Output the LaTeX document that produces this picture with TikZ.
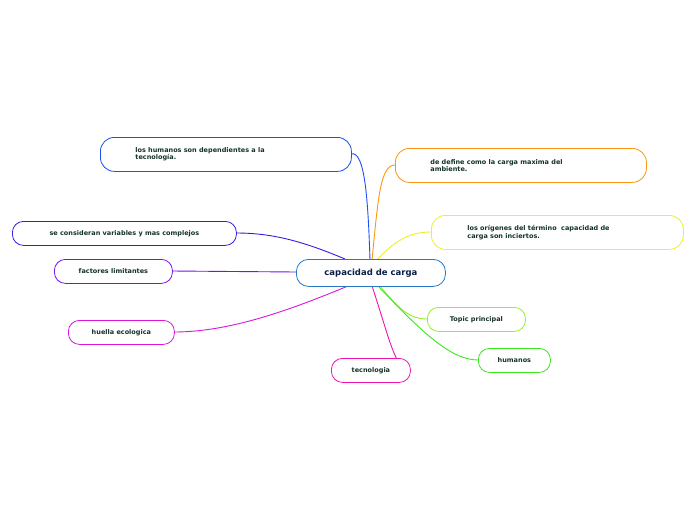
\documentclass[tikz,border=0pt]{standalone}
\usepackage{fontspec}
\setmainfont{DejaVu Sans}
\definecolor{tx}{RGB}{20,50,40}
\definecolor{cb}{RGB}{40,120,200}
\definecolor{b1}{RGB}{30,80,240}
\definecolor{b2}{RGB}{50,30,220}
\definecolor{pu}{RGB}{120,20,230}
\definecolor{mg}{RGB}{220,20,220}
\definecolor{pk}{RGB}{240,20,180}
\definecolor{or}{RGB}{250,150,20}
\definecolor{ye}{RGB}{240,240,40}
\definecolor{lg}{RGB}{150,240,40}
\definecolor{gr}{RGB}{60,230,30}
\tikzset{
 box/.style={draw,rounded corners=11pt,line width=0.8pt,fill=white,font=\fontsize{6.5}{7.5}\selectfont\bfseries,text=tx,anchor=north west,inner sep=0pt},
 link/.style={line width=0.9pt}
}
\begin{document}
\begin{tikzpicture}[x=1pt,y=-1pt]
\useasboundingbox (0,0) rectangle (696,520);
% connectors
\draw[link,b1] (370,260) .. controls (368,200) and (365,150) .. (351,154);
\draw[link,or] (372,260) .. controls (378,200) and (380,165) .. (395,165);
\draw[link,ye] (375,262) .. controls (395,240) and (410,232) .. (431,232);
\draw[link,lg] (380,286) .. controls (400,310) and (410,319) .. (427,319);
\draw[link,gr] (378,286) .. controls (420,330) and (450,360) .. (478,360);
\draw[link,pk] (372,286) .. controls (390,340) and (395,370) .. (410,370);
\draw[link,mg] (348,286) .. controls (290,310) and (230,332) .. (174,332);
\draw[link,pu] (296,272) -- (172,271);
\draw[link,b2] (345,259) .. controls (300,240) and (270,233) .. (236,233);
% nodes
\node[box,draw=cb,rounded corners=12pt,minimum width=149pt,minimum height=27pt,font=\fontsize{8.5}{10}\selectfont\bfseries,text={rgb,255:red,10;green,30;blue,70}] (c) at (296,259) {\makebox[149pt]{capacidad de carga}};
\node[box,draw=b1,minimum width=251pt,minimum height=34pt,rounded corners=14pt] (h) at (100,137) {\hspace{19pt}\parbox{200pt}{los humanos son dependientes a la\\tecnología.}};
\node[box,draw=b2,minimum width=224pt,minimum height=24pt] (s) at (12,221) {\makebox[224pt]{se consideran variables y mas complejos}};
\node[box,draw=pu,minimum width=118pt,minimum height=24pt] (f) at (54,259) {\makebox[118pt]{factores limitantes}};
\node[box,draw=mg,minimum width=106pt,minimum height=24pt] (e) at (68,320) {\makebox[106pt]{huella ecologica}};
\node[box,draw=pk,minimum width=79pt,minimum height=24pt] (t) at (331,358) {\makebox[79pt]{tecnologia}};
\node[box,draw=or,minimum width=251pt,minimum height=34pt,rounded corners=14pt] (d) at (395,148) {\hspace{19pt}\parbox{200pt}{de define como la carga maxima del\\ambiente.}};
\node[box,draw=ye,minimum width=252pt,minimum height=34pt,rounded corners=14pt] (o) at (431,215) {\hspace{20pt}\parbox{200pt}{los orígenes del término\ \ capacidad de\\carga son inciertos.}};
\node[box,draw=lg,minimum width=98pt,minimum height=24pt] (p) at (427,307) {\makebox[98pt]{Topic principal}};
\node[box,draw=gr,minimum width=72pt,minimum height=24pt] (u) at (478,348) {\makebox[72pt]{humanos}};
\end{tikzpicture}
\end{document}
